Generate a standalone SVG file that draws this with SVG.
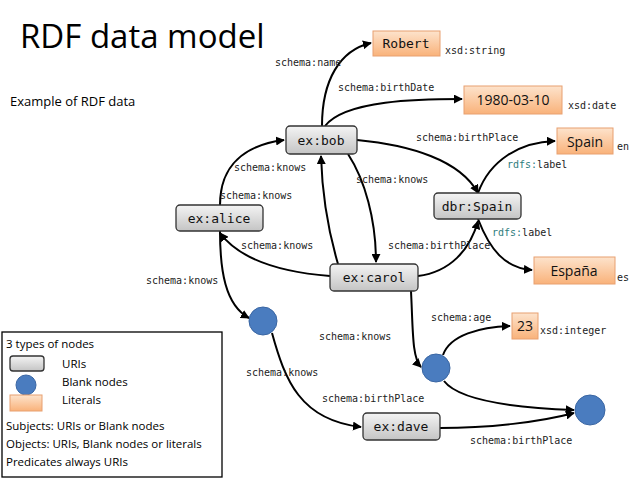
<svg xmlns="http://www.w3.org/2000/svg" width="638" height="479" viewBox="0 0 638 479">
<defs>
<linearGradient id="g" x1="0" y1="0" x2="0" y2="1"><stop offset="0" stop-color="#f4f4f4"/><stop offset="1" stop-color="#c4c4c4"/></linearGradient>
<linearGradient id="o" x1="0" y1="0" x2="0" y2="1"><stop offset="0" stop-color="#fde3cc"/><stop offset="1" stop-color="#f9b27a"/></linearGradient>
<marker id="a" viewBox="0 0 10 10" refX="9" refY="5" markerWidth="9" markerHeight="9" markerUnits="userSpaceOnUse" orient="auto"><path d="M0,0L10,5L0,10z" fill="#000"/></marker>
</defs>
<style>
.u{fill:url(#g);stroke:#333;stroke-width:1.3}
.l{fill:url(#o);stroke:#e8a070;stroke-width:1}
.b{fill:#4a7cbf;stroke:#3a66a3}
.m{font-family:"DejaVu Sans Mono",monospace;font-size:10px;fill:#222}
.n{font-family:"DejaVu Sans Mono",monospace;font-size:13px;fill:#111;text-anchor:middle}
.p{font-family:"Open Sans","Liberation Sans",sans-serif;font-size:14px;fill:#111;text-anchor:middle}
.s{font-family:"Open Sans","Liberation Sans",sans-serif;fill:#000}
.e{fill:none;stroke:#000;stroke-width:2;marker-end:url(#a)}
.t{fill:#2e7d7d}
</style>
<rect width="638" height="479" fill="#fff"/>
<text class="s" x="20" y="48" font-size="33">RDF data model</text>
<text class="s" x="10" y="106" font-size="13">Example of RDF data</text>
<g id="connectors">
<path class="e" d="M322,126 C322,80 340,50 371,43"/>
<path class="e" d="M325,126 C345,100 420,99 462,99"/>
<path class="e" d="M357,140 C410,145 460,160 478,193"/>
<path class="e" d="M478,193 C490,160 520,142 555,141"/>
<path class="e" d="M478,219 C490,250 505,268 532,270"/>
<path class="e" d="M220,205 C220,165 245,145 284,140"/>
<path class="e" d="M338,264 C328,230 322,190 321,156"/>
<path class="e" d="M348,154 C365,180 376,220 376,262"/>
<path class="e" d="M330,276 C280,272 240,260 220,233"/>
<path class="e" d="M418,276 C450,272 470,250 478,221"/>
<path class="e" d="M220,231 C220,270 225,305 249,318"/>
<path class="e" d="M411,291 C413,330 412,358 421,367"/>
<path class="e" d="M272,333 C285,380 300,420 361,427"/>
<path class="e" d="M443,355 C450,335 480,327 510,326"/>
<path class="e" d="M444,381 C460,402 520,408 574,410"/>
<path class="e" d="M440,428 C490,428 540,422 574,413"/>
</g>
<g id="robert"><rect class="l" x="373" y="31" width="67" height="25"/><text class="n" x="406" y="48">Robert</text></g>
<g id="date"><rect class="l" x="464" y="86" width="98" height="28"/><text class="p" x="513" y="105">1980-03-10</text></g>
<g id="spainlit"><rect class="l" x="557" y="128" width="56" height="26"/><text class="p" x="585" y="147">Spain</text></g>
<g id="espana"><rect class="l" x="534" y="257" width="81" height="27"/><text class="p" x="574" y="276">España</text></g>
<g id="age"><rect class="l" x="512" y="313" width="26" height="26"/><text class="p" x="525" y="331">23</text></g>
<g id="bob"><rect class="u" x="286" y="126" width="71" height="28" rx="4"/><text class="n" x="321" y="145">ex:bob</text></g>
<g id="dbrspain"><rect class="u" x="434" y="193" width="87" height="26" rx="4"/><text class="n" x="477" y="211">dbr:Spain</text></g>
<g id="alice"><rect class="u" x="176" y="205" width="87" height="26" rx="4"/><text class="n" x="219" y="223">ex:alice</text></g>
<g id="carol"><rect class="u" x="330" y="264" width="88" height="27" rx="4"/><text class="n" x="374" y="282">ex:carol</text></g>
<g id="dave"><rect class="u" x="363" y="413" width="77" height="27" rx="4"/><text class="n" x="401" y="431">ex:dave</text></g>
<g id="blank1"><circle class="b" cx="263" cy="321" r="14"/></g>
<g id="blank2"><circle class="b" cx="436" cy="368" r="14"/></g>
<g id="blank3"><circle class="b" cx="590" cy="410" r="15"/></g>
<g id="labels" class="m">
<text x="275" y="66">schema:name</text>
<text x="445" y="54">xsd:string</text>
<text x="338" y="91">schema:birthDate</text>
<text x="568" y="109">xsd:date</text>
<text x="416" y="141">schema:birthPlace</text>
<text x="617" y="150">en</text>
<text x="507" y="168"><tspan class="t">rdfs:</tspan>label</text>
<text x="234" y="171">schema:knows</text>
<text x="356" y="183">schema:knows</text>
<text x="220" y="199">schema:knows</text>
<text x="492" y="236"><tspan class="t">rdfs:</tspan>label</text>
<text x="241" y="249">schema:knows</text>
<text x="388" y="249">schema:birthPlace</text>
<text x="146" y="284">schema:knows</text>
<text x="617" y="281">es</text>
<text x="431" y="321">schema:age</text>
<text x="540" y="334">xsd:integer</text>
<text x="319" y="340">schema:knows</text>
<text x="246" y="376">schema:knows</text>
<text x="322" y="402">schema:birthPlace</text>
<text x="470" y="444">schema:birthPlace</text>
</g>
<g id="legend">
<rect x="2" y="332" width="220" height="145" fill="#fff" stroke="#000" stroke-width="1.3"/>
<text class="s" x="6" y="348" font-size="11.5">3 types of nodes</text>
<rect class="u" x="10" y="356" width="34" height="15" rx="3"/>
<text class="s" x="62" y="368" font-size="11.5">URIs</text>
<ellipse class="b" cx="26" cy="385" rx="10" ry="10"/>
<text class="s" x="62" y="386" font-size="11.5">Blank nodes</text>
<rect class="l" x="10" y="395" width="32" height="16"/>
<text class="s" x="62" y="404" font-size="11.5">Literals</text>
<text class="s" x="6" y="430" font-size="11.5">Subjects: URIs or Blank nodes</text>
<text class="s" x="6" y="448" font-size="11.5">Objects: URIs, Blank nodes or literals</text>
<text class="s" x="6" y="466" font-size="11.5">Predicates always URIs</text>
</g>
</svg>
